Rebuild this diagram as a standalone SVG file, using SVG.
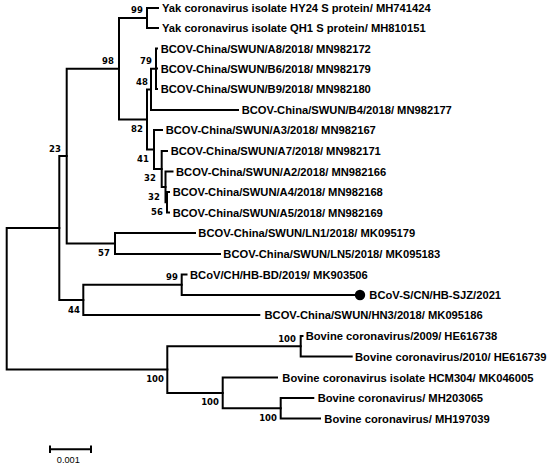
<svg xmlns="http://www.w3.org/2000/svg" width="550" height="469" viewBox="0 0 550 469">
<style>
.br{fill:none;stroke:#000;stroke-width:2;stroke-linecap:square;stroke-linejoin:miter}
.lf{font-family:"Liberation Sans",Arial,sans-serif;font-weight:bold;font-size:11.2px;fill:#000}
.bs{font-family:"DejaVu Sans",Verdana,sans-serif;font-weight:bold;font-size:8.5px;fill:#000;text-anchor:middle}
.sc{font-family:"Liberation Sans",Arial,sans-serif;font-size:9.2px;fill:#000;text-anchor:middle}
</style>
<rect width="550" height="469" fill="#fff"/>
<g id="connectors">
<!-- root -->
<path class="br" d="M59.3 228 H6.7 V369.6 H167.3"/>
<!-- Nx -->
<path class="br" d="M66.7 156.1 H59.3 V299.9 H83.3"/>
<!-- N23 -->
<path class="br" d="M119 68.7 H66.7 V243.5 H115"/>
<!-- N98 -->
<path class="br" d="M147 18 H119 V119.4 H147"/>
<!-- Yak -->
<path class="br" d="M158 8 H147 V28 H158"/>
<!-- N82 -->
<path class="br" d="M151 89.4 H147 V149.5 H154"/>
<!-- N48 -->
<path class="br" d="M156 68.75 H151 V110 H238"/>
<!-- N79 -->
<path class="br" d="M157 48.5 H156 V89 H157 M156 68.5 H157"/>
<!-- n4 -->
<path class="br" d="M162 130 H154 V169 H161.7"/>
<!-- n3 -->
<path class="br" d="M167 151 H161.7 V186.9 H165.5"/>
<!-- n2 -->
<path class="br" d="M172.5 171.5 H165.5 V202.25 H167"/>
<!-- n1 -->
<path class="br" d="M169 192 H167 V212.5 H169"/>
<!-- N57 -->
<path class="br" d="M195 233 H115 V254 H220"/>
<!-- N44 -->
<path class="br" d="M181.7 284.75 H83.3 V315 H259.3"/>
<!-- N99 -->
<path class="br" d="M186.5 274.5 H181.7 V295 H355"/>
<!-- N100a -->
<path class="br" d="M300.7 346.25 H167.3 V392.9 H222.7"/>
<!-- N100b -->
<path class="br" d="M302.5 336 H300.7 V356.5 H351.7"/>
<!-- N100c -->
<path class="br" d="M277 377.5 H222.7 V408.25 H280.7"/>
<!-- N100d -->
<path class="br" d="M313.3 398 H280.7 V418.5 H320"/>
</g>
<g id="leaf-yak-hy24"><text class="lf" x="162" y="12">Yak coronavirus isolate HY24 S protein/ MH741424</text></g>
<g id="leaf-yak-qh1"><text class="lf" x="162" y="32">Yak coronavirus isolate QH1 S protein/ MH810151</text></g>
<g id="leaf-a8"><text class="lf" x="160.7" y="52.5">BCOV-China/SWUN/A8/2018/ MN982172</text></g>
<g id="leaf-b6"><text class="lf" x="160.7" y="72.5">BCOV-China/SWUN/B6/2018/ MN982179</text></g>
<g id="leaf-b9"><text class="lf" x="160.7" y="93">BCOV-China/SWUN/B9/2018/ MN982180</text></g>
<g id="leaf-b4"><text class="lf" x="241.7" y="114">BCOV-China/SWUN/B4/2018/ MN982177</text></g>
<g id="leaf-a3"><text class="lf" x="165.7" y="134">BCOV-China/SWUN/A3/2018/ MN982167</text></g>
<g id="leaf-a7"><text class="lf" x="170.7" y="155">BCOV-China/SWUN/A7/2018/ MN982171</text></g>
<g id="leaf-a2"><text class="lf" x="176" y="175.5">BCOV-China/SWUN/A2/2018/ MN982166</text></g>
<g id="leaf-a4"><text class="lf" x="172.7" y="196">BCOV-China/SWUN/A4/2018/ MN982168</text></g>
<g id="leaf-a5"><text class="lf" x="172.7" y="216.5">BCOV-China/SWUN/A5/2018/ MN982169</text></g>
<g id="leaf-ln1"><text class="lf" x="198.3" y="237">BCOV-China/SWUN/LN1/2018/ MK095179</text></g>
<g id="leaf-ln5"><text class="lf" x="223.3" y="258">BCOV-China/SWUN/LN5/2018/ MK095183</text></g>
<g id="leaf-hb-bd"><text class="lf" x="190" y="278.5">BCoV/CH/HB-BD/2019/ MK903506</text></g>
<g id="leaf-sjz"><circle cx="360" cy="295" r="5.2" fill="#000"/><text class="lf" x="369.3" y="299">BCoV-S/CN/HB-SJZ/2021</text></g>
<g id="leaf-hn3"><text class="lf" x="264.5" y="319">BCOV-China/SWUN/HN3/2018/ MK095186</text></g>
<g id="leaf-bov2009"><text class="lf" x="305.7" y="340">Bovine coronavirus/2009/ HE616738</text></g>
<g id="leaf-bov2010"><text class="lf" x="355" y="360.5">Bovine coronavirus/2010/ HE616739</text></g>
<g id="leaf-hcm304"><text class="lf" x="282.3" y="381.5">Bovine coronavirus isolate HCM304/ MK046005</text></g>
<g id="leaf-mh203065"><text class="lf" x="317.7" y="402">Bovine coronavirus/ MH203065</text></g>
<g id="leaf-mh197039"><text class="lf" x="324.3" y="422.5">Bovine coronavirus/ MH197039</text></g>
<g id="bootstrap">
<text class="bs" x="137" y="13">99</text>
<text class="bs" x="108" y="64">98</text>
<text class="bs" x="146" y="64">79</text>
<text class="bs" x="142" y="85">48</text>
<text class="bs" x="137" y="132">82</text>
<text class="bs" x="55" y="152">23</text>
<text class="bs" x="143" y="161.5">41</text>
<text class="bs" x="150" y="181">32</text>
<text class="bs" x="154" y="200">32</text>
<text class="bs" x="157" y="215">56</text>
<text class="bs" x="104" y="256">57</text>
<text class="bs" x="172" y="280">99</text>
<text class="bs" x="74" y="313">44</text>
<text class="bs" x="287" y="342">100</text>
<text class="bs" x="155" y="382">100</text>
<text class="bs" x="210" y="405">100</text>
<text class="bs" x="268" y="421">100</text>
</g>
<g id="scale-bar">
<path class="br" style="stroke-linecap:butt" d="M50 449.3 H91 M50 445.5 V453 M91 445.5 V453"/>
<text class="sc" x="68.3" y="462.5">0.001</text>
</g>
</svg>
